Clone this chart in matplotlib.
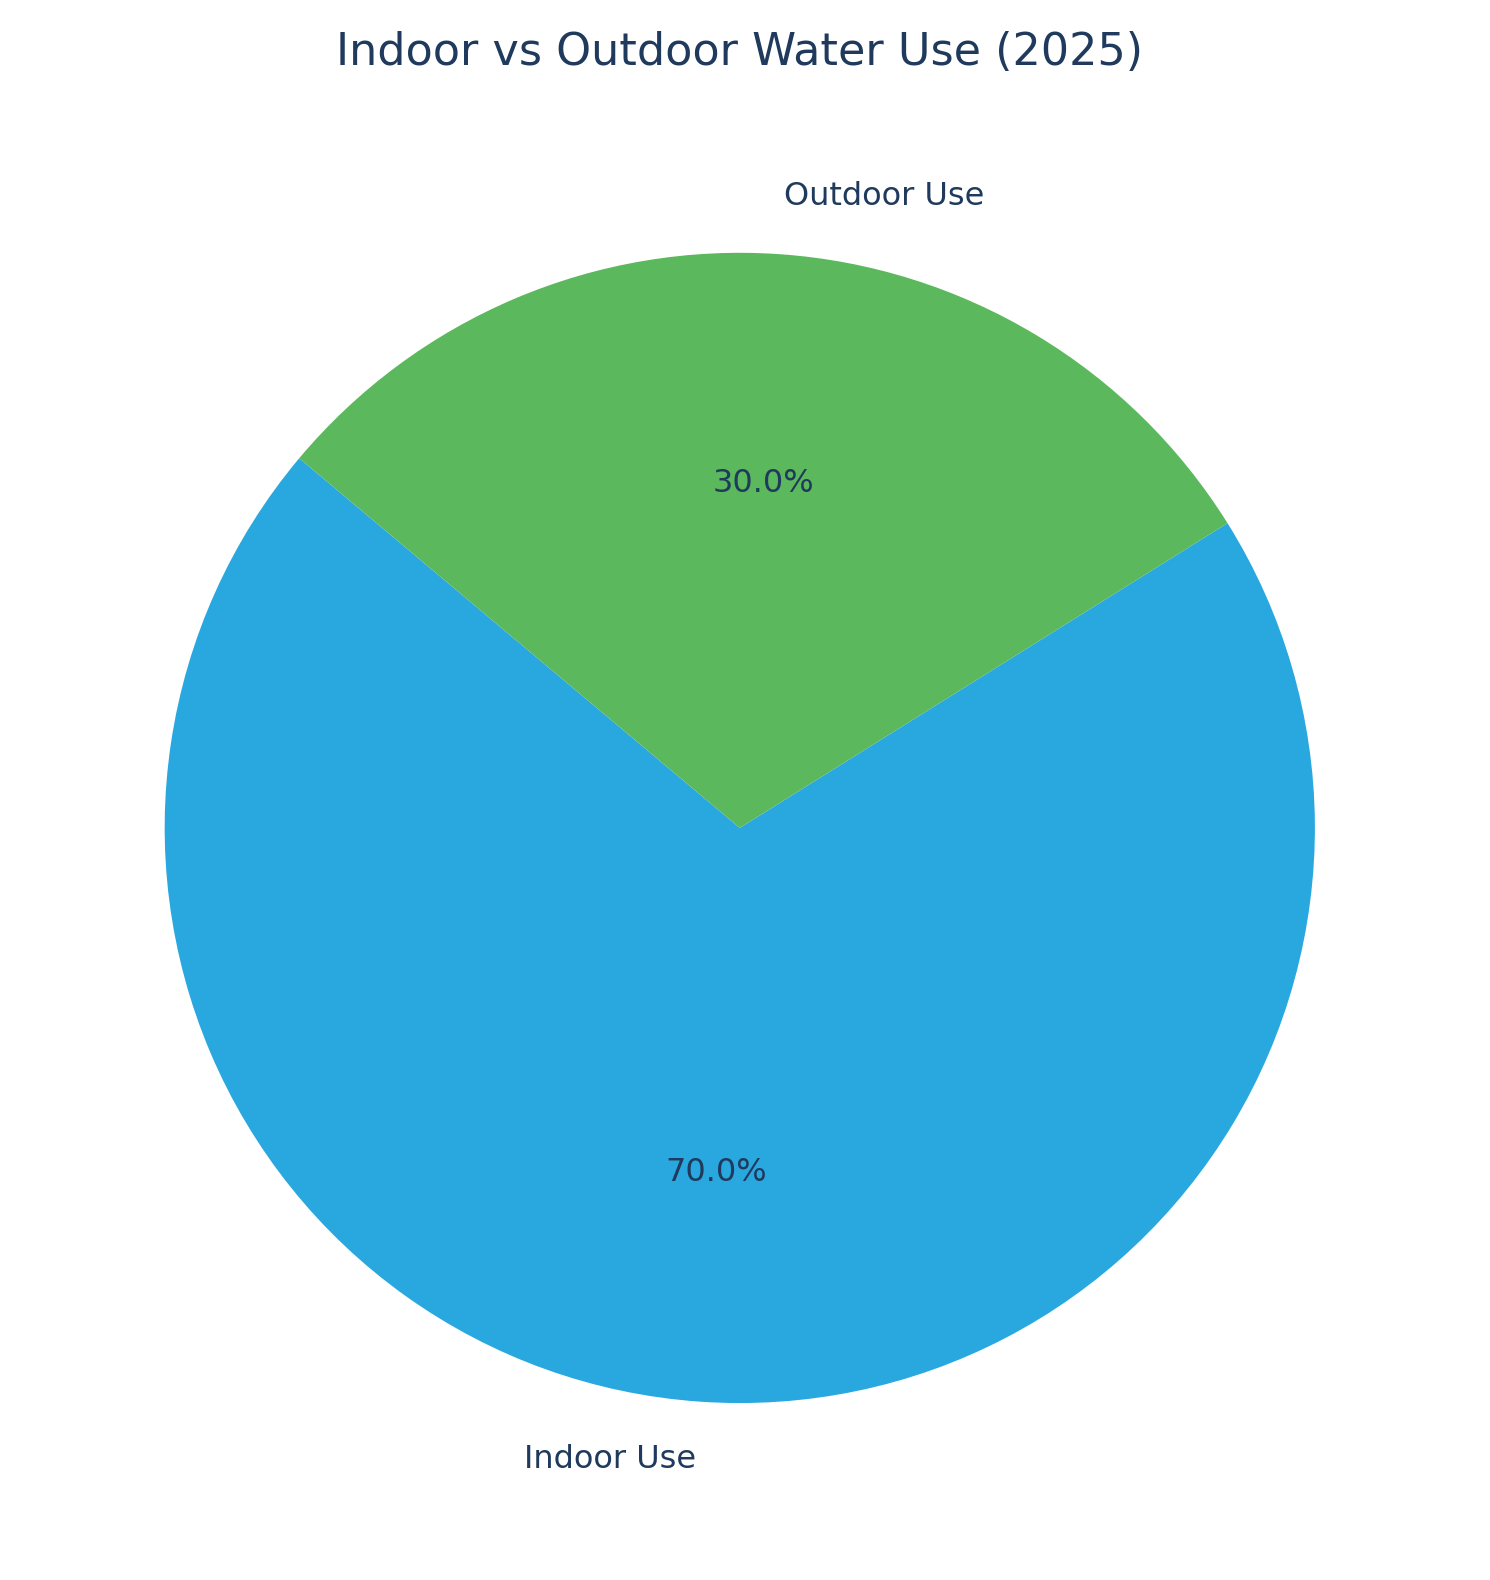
import matplotlib.pyplot as plt

labels = ['Indoor Use', 'Outdoor Use']
shares = [70, 30]
colors = ['#29a8e0', '#5cb85c']
text_color = '#1f3a5c'

fig = plt.figure(figsize=(14.9, 15.8), dpi=100)
ax = fig.add_axes([0.014, 0.021, 0.965, 0.910])
wedges, texts, autotexts = ax.pie(shares, labels=labels, colors=colors, startangle=140,
                                  autopct='%1.1f%%', textprops={'fontsize': 23, 'color': text_color})
ax.set_aspect('equal')
ax.set_title('Indoor vs Outdoor Water Use (2025)', fontsize=32, color=text_color, pad=32)
plt.savefig('out.png', dpi=100)
